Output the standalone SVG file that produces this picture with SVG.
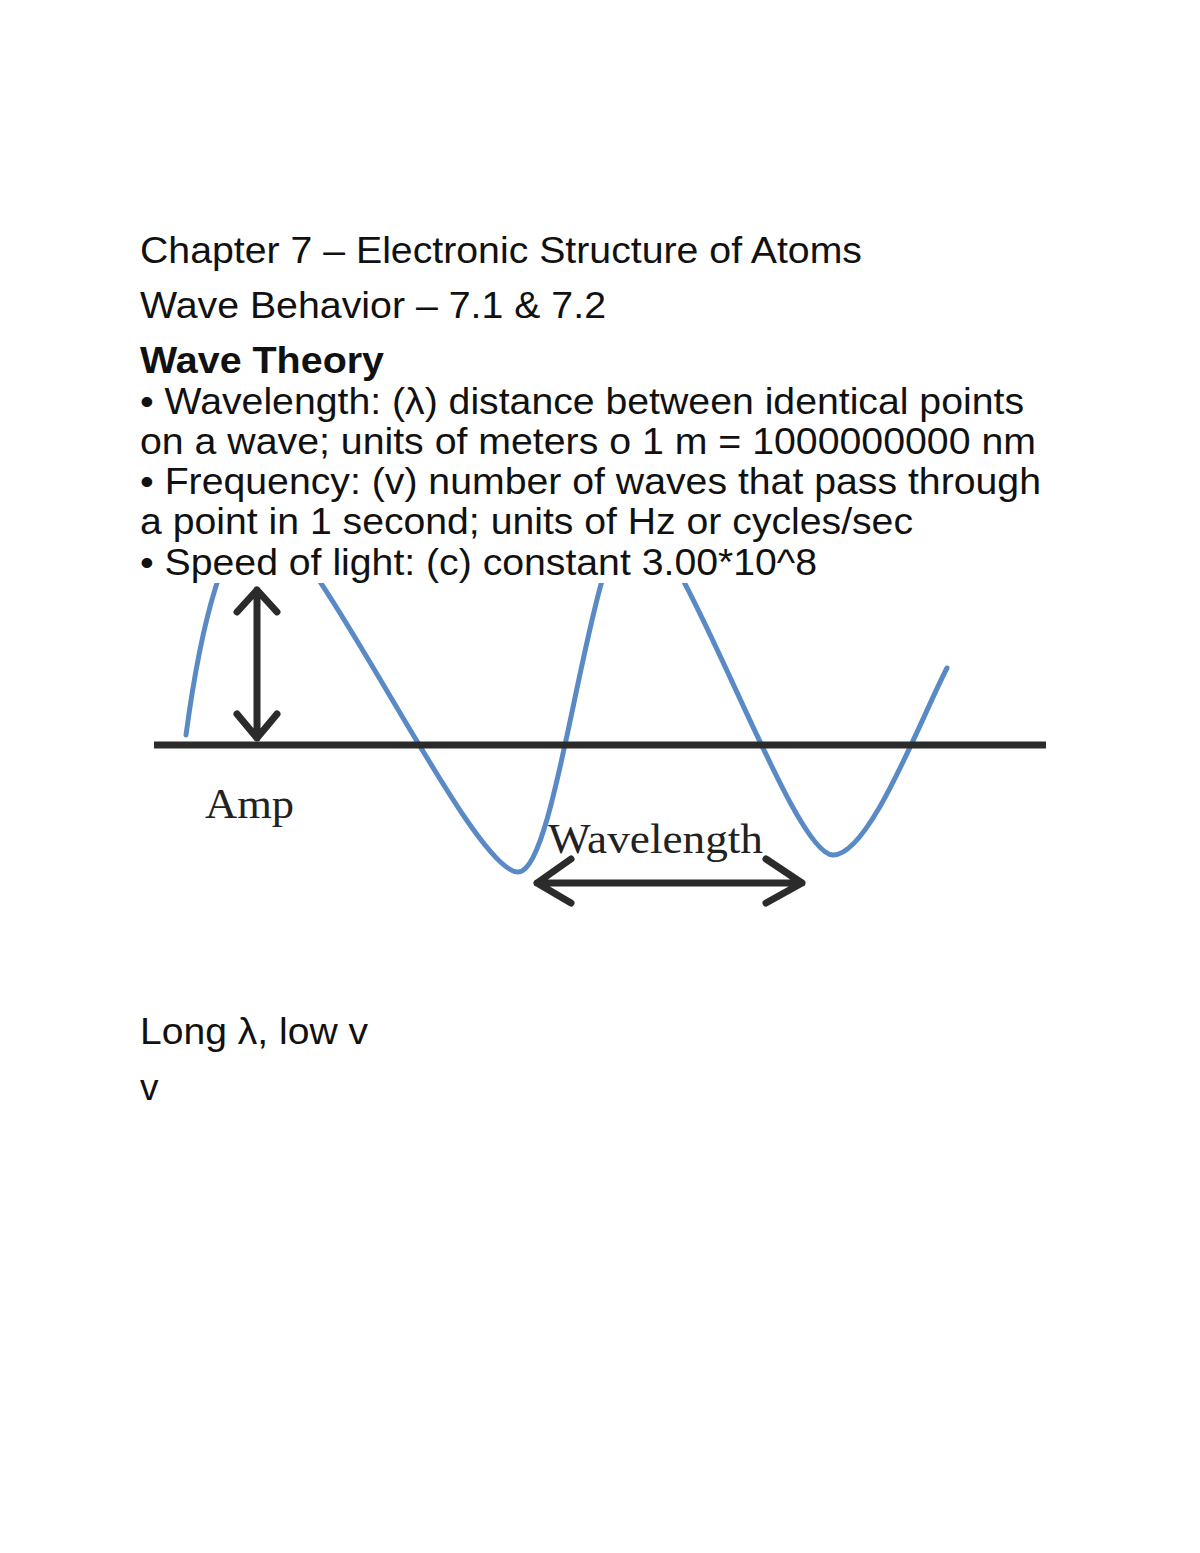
<svg xmlns="http://www.w3.org/2000/svg" width="1200" height="1553" viewBox="0 0 1200 1553">
<style>
.t{font-family:"Liberation Sans",Arial,sans-serif;font-size:37px;fill:#111}
.s{font-family:"Liberation Serif","Times New Roman",serif;font-size:42px;fill:#222}
.ar{stroke:#2b2b2b;stroke-width:7;fill:none;stroke-linecap:round;stroke-linejoin:round}
</style>
<defs><clipPath id="c"><rect x="0" y="583" width="1200" height="400"/></clipPath></defs>
<rect width="1200" height="1553" fill="#fff"/>
<g id="texts">
<text class="t" x="140" y="263" textLength="722" lengthAdjust="spacingAndGlyphs">Chapter 7 – Electronic Structure of Atoms</text>
<text class="t" x="140" y="318" textLength="466" lengthAdjust="spacingAndGlyphs">Wave Behavior – 7.1 &amp; 7.2</text>
<text class="t" x="140" y="373" font-weight="bold" textLength="244" lengthAdjust="spacingAndGlyphs">Wave Theory</text>
<text class="t" x="140" y="414" textLength="884" lengthAdjust="spacingAndGlyphs">• Wavelength: (λ) distance between identical points</text>
<text class="t" x="140" y="454" textLength="896" lengthAdjust="spacingAndGlyphs">on a wave; units of meters o 1 m = 1000000000 nm</text>
<text class="t" x="140" y="494" textLength="901" lengthAdjust="spacingAndGlyphs">• Frequency: (v) number of waves that pass through</text>
<text class="t" x="140" y="534" textLength="773" lengthAdjust="spacingAndGlyphs">a point in 1 second; units of Hz or cycles/sec</text>
<text class="t" x="140" y="575" textLength="677" lengthAdjust="spacingAndGlyphs">• Speed of light: (c) constant 3.00*10^8</text>
<text class="t" x="140" y="1044" textLength="228" lengthAdjust="spacingAndGlyphs">Long λ, low v</text>
<text class="t" x="140" y="1100">v</text>
</g>
<g id="wave">
<path clip-path="url(#c)" d="M186,735 C200,630 225,520 262,520 C310,520 470,872 518,872 C560,872 590,520 635,520 C680,520 790,855 833,855 C870,855 920,720 947,668" stroke="#5a8ac6" stroke-width="5" fill="none" stroke-linecap="round"/>
</g>
<g id="connectors">
<line x1="154" y1="745" x2="1046" y2="745" stroke="#2b2b2b" stroke-width="7"/>
<path class="ar" d="M257,590 V738 M237,612 L257,590 L277,612 M237,714 L257,738 L277,714"/>
<path class="ar" d="M537,883 H802 M571,859 L537,883 L571,903 M766,859 L802,883 L766,903"/>
</g>
<g id="labels">
<text class="s" x="205" y="818" textLength="89" lengthAdjust="spacingAndGlyphs">Amp</text>
<text class="s" x="548" y="853" textLength="215" lengthAdjust="spacingAndGlyphs">Wavelength</text>
</g>
</svg>
